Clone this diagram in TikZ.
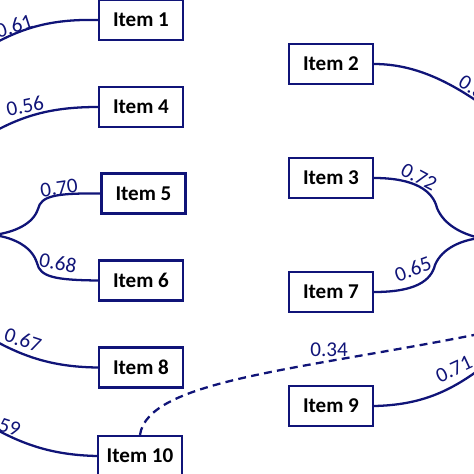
\documentclass[tikz,border=0pt]{standalone}
\usepackage{fontspec}
\setmainfont{Carlito}
\usepackage{tikz}
\usetikzlibrary{positioning}
\definecolor{navy}{RGB}{16,20,120}

\begin{document}
\begin{tikzpicture}[x=0.02cm,y=-0.02cm,
        item/.style={draw=navy,line width=1.3pt,fill=white,minimum width=1.68cm,minimum height=0.8cm,inner sep=0pt,font=\fontsize{12}{14}\selectfont\bfseries},
        load/.style={navy,line width=1.3pt},
        val/.style={navy,inner sep=0pt,font=\fontsize{12}{14}\selectfont}]
        \useasboundingbox[clip] (0,0) rectangle (474,474);
        % items
        \node[item] (i1) at (141,20) {Item 1};
        \node[item] (i4) at (141,107) {Item 4};
        \node[item] (i5) at (143.5,193.5) {Item 5};
        \node[item] (i6) at (141,280.5) {Item 6};
        \node[item] (i8) at (141,367.5) {Item 8};
        \node[item] (i10) at (140,456) {Item 10};
        \node[item] (i2) at (331,64) {Item 2};
        \node[item] (i3) at (331,178) {Item 3};
        \node[item] (i7) at (331,292) {Item 7};
        \node[item] (i9) at (331,406) {Item 9};
        % factors, off the picture
        \coordinate (fa) at (-10,46);
        \coordinate (fb) at (-10,134);
        \coordinate (fc) at (-6,235);
        \coordinate (fd) at (-10,338);
        \coordinate (fe) at (-10,426);
        \coordinate (ff) at (484,106);
        \coordinate (fg) at (480,238);
        \coordinate (fh) at (484,366);
        \coordinate (fk) at (484,333);
        % loadings
        \draw[load] (i1.west) .. controls (55,19) and (25,26) .. (fa);
        \draw[load] (i4.west) .. controls (55,107) and (25,114) .. (fb);
        \draw[load] (i5.west) .. controls (55,193) and (41,196) .. (38,209) .. controls (33,224) and (15,232) .. (fc);
        \draw[load] (i6.west) .. controls (55,280) and (40,277) .. (37,263) .. controls (32,247) and (15,238) .. (fc);
        \draw[load] (i8.west) .. controls (55,367) and (25,358) .. (fd);
        \draw[load] (i10.west) .. controls (55,455) and (25,446) .. (fe);
        \draw[load] (i2.east) .. controls (415,64) and (450,82) .. (ff);
        \draw[load] (i3.east) .. controls (415,178) and (433,191) .. (437,208) .. controls (444,225) and (462,234) .. (fg);
        \draw[load] (i7.east) .. controls (415,292) and (431,281) .. (435,265) .. controls (442,248) and (462,240) .. (fg);
        \draw[load] (i9.east) .. controls (420,405) and (450,392) .. (fh);
        \draw[load,dash pattern=on 4.5pt off 3pt] (i10.north) .. controls (148,380) and (300,370) .. (fk);
        % values
        \node[val,rotate=18] at (14,26) {0.61};
        \node[val,rotate=12] at (25,106) {0.56};
        \node[val,rotate=8] at (59,188) {0.70};
        \node[val,rotate=-10] at (58,263) {0.68};
        \node[val,rotate=-18] at (23,340) {0.67};
        \node[val,rotate=-18] at (2,425) {0.59};
        \node[val,rotate=-32] at (472,87) {0.3};
        \node[val,rotate=-28] at (419,177) {0.72};
        \node[val,rotate=20] at (413,269) {0.65};
        \node[val] at (329,350) {0.34};
        \node[val,rotate=25] at (454,369) {0.71};
\end{tikzpicture}
\end{document}
